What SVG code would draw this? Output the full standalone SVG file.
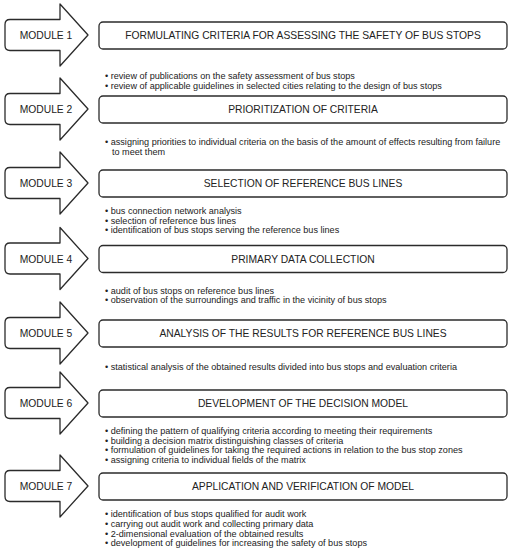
<svg xmlns="http://www.w3.org/2000/svg" width="511" height="550" viewBox="0 0 511 550">
<defs>
<style>
.arrow{fill:#fff;stroke:#2b2b2b;stroke-width:1.3;stroke-linejoin:round}
.box{fill:#fff;stroke:#2b2b2b;stroke-width:1.3}
.lbl{font-family:"Liberation Sans",Arial,sans-serif;font-size:10.3px;fill:#222;text-anchor:middle}
.ttl{font-family:"Liberation Sans",Arial,sans-serif;font-size:10.3px;fill:#222;text-anchor:middle}
.bul{font-family:"Liberation Sans",Arial,sans-serif;font-size:9.1px;fill:#222}
</style>
<path id="arr" d="M10,-15.5 L60,-15.5 L60,-31 L88,0 L60,31 L60,15.5 L10,15.5 Q5,15.5 5,10.5 L5,-10.5 Q5,-15.5 10,-15.5 Z"/>
</defs>
<rect width="511" height="550" fill="#fff"/>
<g id="connectors"></g>

<g id="module1">
<use href="#arr" class="arrow" transform="translate(0,35)"/>
<text class="lbl" x="46" y="39">MODULE 1</text>
<rect class="box" x="99" y="22" width="408" height="27" rx="4"/>
<text class="ttl" x="303" y="39">FORMULATING CRITERIA FOR ASSESSING THE SAFETY OF BUS STOPS</text>
<text class="bul" x="105" y="79">• review of publications on the safety assessment of bus stops</text>
<text class="bul" x="105" y="89">• review of applicable guidelines in selected cities relating to the design of bus stops</text>
</g>

<g id="module2">
<use href="#arr" class="arrow" transform="translate(0,109)"/>
<text class="lbl" x="46" y="113">MODULE 2</text>
<rect class="box" x="99" y="96" width="408" height="27" rx="4"/>
<text class="ttl" x="303" y="113">PRIORITIZATION OF CRITERIA</text>
<text class="bul" x="105" y="145">• assigning priorities to individual criteria on the basis of the amount of effects resulting from failure</text>
<text class="bul" x="112" y="155">to meet them</text>
</g>

<g id="module3">
<use href="#arr" class="arrow" transform="translate(0,183)"/>
<text class="lbl" x="46" y="187">MODULE 3</text>
<rect class="box" x="99" y="170" width="408" height="27" rx="4"/>
<text class="ttl" x="303" y="187">SELECTION OF REFERENCE BUS LINES</text>
<text class="bul" x="105" y="214">• bus connection network analysis</text>
<text class="bul" x="105" y="224">• selection of reference bus lines</text>
<text class="bul" x="105" y="233">• identification of bus stops serving the reference bus lines</text>
</g>

<g id="module4">
<use href="#arr" class="arrow" transform="translate(0,258.5)"/>
<text class="lbl" x="46" y="262.5">MODULE 4</text>
<rect class="box" x="99" y="245.5" width="408" height="27" rx="4"/>
<text class="ttl" x="303" y="262.5">PRIMARY DATA COLLECTION</text>
<text class="bul" x="105" y="294">• audit of bus stops on reference bus lines</text>
<text class="bul" x="105" y="303">• observation of the surroundings and traffic in the vicinity of bus stops</text>
</g>

<g id="module5">
<use href="#arr" class="arrow" transform="translate(0,333)"/>
<text class="lbl" x="46" y="337">MODULE 5</text>
<rect class="box" x="99" y="320" width="408" height="27" rx="4"/>
<text class="ttl" x="303" y="337">ANALYSIS OF THE RESULTS FOR REFERENCE BUS LINES</text>
<text class="bul" x="105" y="370">• statistical analysis of the obtained results divided into bus stops and evaluation criteria</text>
</g>

<g id="module6">
<use href="#arr" class="arrow" transform="translate(0,403)"/>
<text class="lbl" x="46" y="407">MODULE 6</text>
<rect class="box" x="99" y="390" width="408" height="27" rx="4"/>
<text class="ttl" x="303" y="407">DEVELOPMENT OF THE DECISION MODEL</text>
<text class="bul" x="105" y="434">• defining the pattern of qualifying criteria according to meeting their requirements</text>
<text class="bul" x="105" y="444">• building a decision matrix distinguishing classes of criteria</text>
<text class="bul" x="105" y="453">• formulation of guidelines for taking the required actions in relation to the bus stop zones</text>
<text class="bul" x="105" y="463">• assigning criteria to individual fields of the matrix</text>
</g>

<g id="module7">
<use href="#arr" class="arrow" transform="translate(0,486)"/>
<text class="lbl" x="46" y="490">MODULE 7</text>
<rect class="box" x="99" y="473" width="408" height="27" rx="4"/>
<text class="ttl" x="303" y="490">APPLICATION AND VERIFICATION OF MODEL</text>
<text class="bul" x="105" y="517">• identification of bus stops qualified for audit work</text>
<text class="bul" x="105" y="527">• carrying out audit work and collecting primary data</text>
<text class="bul" x="105" y="537">• 2-dimensional evaluation of the obtained results</text>
<text class="bul" x="105" y="546">• development of guidelines for increasing the safety of bus stops</text>
</g>
</svg>
